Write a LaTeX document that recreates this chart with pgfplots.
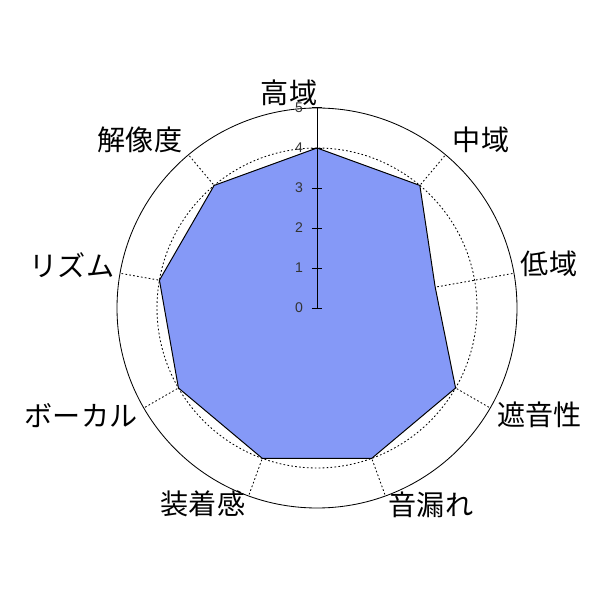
\documentclass[border=0pt]{standalone}
\usepackage{fontspec}
\setmainfont{Liberation Sans}
\newfontfamily\jp{Noto Sans CJK JP}
\usepackage{pgfplots}
\pgfplotsset{compat=1.18}
\definecolor{radarfill}{RGB}{133,153,247}
\begin{document}
\begin{tikzpicture}
\begin{axis}[hide axis, scale only axis, width=15cm, height=15cm,
  xmin=-7.925, xmax=7.075, ymin=-7.3, ymax=7.7, clip=false]
% page extent
\path (axis cs:-7.925,-7.3) rectangle (axis cs:7.075,7.7);
% grid
\draw[line width=0.6pt] (axis cs:0,0) circle[radius=5];
\draw[line width=0.6pt, dash pattern=on 1.2pt off 1.6pt] (axis cs:0,0) circle[radius=4];
\pgfplotsinvokeforeach{90,50,10,-30,-70,-110,-150,170,130}{
  \draw[line width=0.6pt, dash pattern=on 1.2pt off 1.6pt] (axis cs:0,0) -- ++(#1:5cm);
}
% scores
\addplot[fill=radarfill, draw=black, line width=0.7pt, data cs=polar] coordinates {
(90,4) (50,4) (10,3) (-30,4) (-70,4) (-110,4) (-150,4) (170,4) (130,4)
} -- cycle;
% radial scale
\draw[line width=0.7pt] (axis cs:0,0) -- (axis cs:0,5);
\pgfplotsinvokeforeach{0,...,5}{
  \draw[line width=0.7pt] (axis cs:-0.13,#1) -- (axis cs:0.12,#1);
  \node[font=\fontsize{10}{12}\selectfont, text=black!80] at (axis cs:-0.45,#1) {#1};
}
% labels
\tikzset{lab/.style={font=\jp\fontsize{20}{24}\selectfont}}
\node[lab] at (axis cs:-0.7,5.375) {高域};
\node[lab] at (axis cs:4.1,4.2) {中域};
\node[lab] at (axis cs:5.8,1.1) {低域};
\node[lab] at (axis cs:5.56,-2.675) {遮音性};
\node[lab] at (axis cs:2.85,-4.925) {音漏れ};
\node[lab] at (axis cs:-2.85,-4.9) {装着感};
\node[lab] at (axis cs:-5.9,-2.7) {ボーカル};
\node[lab] at (axis cs:-6.125,1.075) {リズム};
\node[lab] at (axis cs:-4.425,4.2) {解像度};
\end{axis}
\end{tikzpicture}
\end{document}
